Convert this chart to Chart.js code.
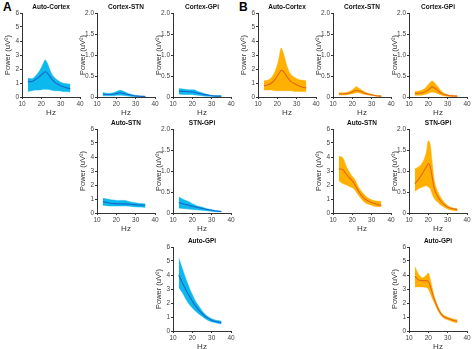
<!DOCTYPE html>
<html><head><meta charset="utf-8">
<script src="https://cdn.jsdelivr.net/npm/chart.js@4/dist/chart.umd.min.js"></script>
<style>
html,body{margin:0;padding:0;background:#fff;}
#wrap{position:relative;width:474px;height:349px;overflow:hidden;font-family:"Liberation Sans",Arial,sans-serif;}
canvas{position:absolute;}
.lbl{position:absolute;font-weight:bold;font-size:12px;color:#000;line-height:1;}
</style></head><body>
<div id="wrap">
<div class="lbl" style="left:3px;top:1px">A</div>
<div class="lbl" style="left:239px;top:1px">B</div>
</div>
<script>
const hz = [13,15,17,19,20,21,22,23,25,27,29,31,33,35];
const xTicks = [10,20,30,40];
const yTicksBig = [0,1,2,3,4,5,6];
const yTicksSmall = [0,0.5,1,1.5,2];

// Group A
const aCortexMean  = [1.1,1.1,1.25,1.45,1.58,1.7,1.8,1.72,1.35,1.05,0.88,0.75,0.65,0.6];
const aCortexUpper = [1.35,1.3,1.5,1.85,2.1,2.4,2.65,2.45,1.75,1.35,1.15,1.0,0.95,0.9];
const aCortexLower = [0.4,0.45,0.5,0.5,0.52,0.55,0.55,0.55,0.5,0.45,0.45,0.4,0.4,0.35];
const aCtxStnMean  = [0.07,0.06,0.06,0.07,0.08,0.09,0.1,0.09,0.07,0.05,0.03,0.02,0.015,0.01];
const aCtxStnUpper = [0.11,0.09,0.09,0.11,0.13,0.15,0.16,0.15,0.11,0.07,0.05,0.03,0.025,0.02];
const aCtxStnLower = [0.03,0.03,0.03,0.03,0.04,0.04,0.04,0.04,0.03,0.02,0.01,0.005,0.003,0.002];
const aCtxGpiMean  = [0.14,0.135,0.13,0.125,0.12,0.115,0.1,0.09,0.07,0.05,0.035,0.025,0.02,0.02];
const aCtxGpiUpper = [0.2,0.19,0.18,0.17,0.17,0.17,0.15,0.13,0.1,0.07,0.05,0.035,0.03,0.03];
const aCtxGpiLower = [0.07,0.06,0.06,0.06,0.06,0.05,0.05,0.04,0.03,0.02,0.015,0.01,0.008,0.005];
const aStnMean     = [0.8,0.75,0.7,0.67,0.65,0.65,0.65,0.65,0.65,0.62,0.6,0.58,0.56,0.55];
const aStnUpper    = [1.05,1.0,0.95,0.92,0.9,0.9,0.9,0.9,0.88,0.8,0.75,0.7,0.67,0.65];
const aStnLower    = [0.55,0.52,0.5,0.5,0.5,0.5,0.5,0.5,0.5,0.48,0.45,0.43,0.42,0.4];
const aStnGpiMean  = [0.25,0.22,0.2,0.17,0.16,0.15,0.14,0.13,0.11,0.09,0.07,0.055,0.045,0.035];
const aStnGpiUpper = [0.38,0.33,0.29,0.25,0.22,0.2,0.18,0.16,0.14,0.11,0.09,0.07,0.05,0.04];
const aStnGpiLower = [0.12,0.11,0.1,0.09,0.085,0.08,0.075,0.07,0.065,0.055,0.045,0.035,0.03,0.025];
const aGpiMean     = [4.0,3.4,2.85,2.35,2.12,1.9,1.72,1.55,1.25,1.0,0.85,0.72,0.65,0.6];
const aGpiUpper    = [5.2,4.4,3.6,2.9,2.6,2.3,2.05,1.85,1.45,1.15,0.95,0.82,0.75,0.7];
const aGpiLower    = [3.1,2.7,2.2,1.8,1.65,1.5,1.37,1.25,1.05,0.85,0.7,0.62,0.55,0.5];

// Group B
const bCortexMean  = [0.8,0.85,1.0,1.3,1.5,1.7,1.9,1.85,1.45,1.1,0.95,0.8,0.7,0.65];
const bCortexUpper = [1.15,1.2,1.4,1.9,2.3,2.9,3.5,3.2,2.2,1.6,1.4,1.25,1.2,1.15];
const bCortexLower = [0.5,0.5,0.5,0.45,0.45,0.45,0.45,0.45,0.45,0.45,0.4,0.4,0.4,0.4];
const bCtxStnMean  = [0.07,0.07,0.08,0.1,0.12,0.14,0.16,0.15,0.12,0.08,0.06,0.04,0.025,0.02];
const bCtxStnUpper = [0.1,0.1,0.11,0.14,0.17,0.21,0.25,0.22,0.16,0.11,0.08,0.05,0.035,0.03];
const bCtxStnLower = [0.05,0.05,0.05,0.07,0.08,0.09,0.1,0.1,0.08,0.06,0.04,0.03,0.02,0.01];
const bCtxGpiMean  = [0.08,0.09,0.1,0.14,0.17,0.21,0.24,0.22,0.15,0.08,0.05,0.03,0.025,0.02];
const bCtxGpiUpper = [0.13,0.14,0.17,0.24,0.3,0.35,0.38,0.35,0.24,0.13,0.07,0.045,0.035,0.03];
const bCtxGpiLower = [0.04,0.04,0.05,0.07,0.09,0.11,0.12,0.11,0.08,0.04,0.02,0.015,0.01,0.01];
const bStnMean     = [3.15,3.1,2.75,2.45,2.3,2.1,1.85,1.6,1.2,0.95,0.8,0.7,0.6,0.55];
const bStnUpper    = [4.05,3.95,3.3,2.8,2.6,2.45,2.2,1.9,1.5,1.2,1.0,0.9,0.85,0.8];
const bStnLower    = [2.3,2.1,2.0,1.85,1.8,1.7,1.5,1.3,0.95,0.7,0.6,0.5,0.45,0.45];
const bStnGpiMean  = [0.7,0.8,0.95,1.1,1.18,1.1,0.85,0.6,0.38,0.25,0.17,0.12,0.1,0.08];
const bStnGpiUpper = [1.05,1.1,1.2,1.45,1.72,1.62,1.2,0.8,0.5,0.33,0.22,0.15,0.12,0.1];
const bStnGpiLower = [0.52,0.58,0.62,0.65,0.62,0.58,0.45,0.35,0.25,0.17,0.12,0.08,0.06,0.05];
const bGpiMean     = [3.9,3.65,3.6,3.6,3.55,3.2,2.75,2.3,1.6,1.15,0.95,0.85,0.75,0.7];
const bGpiUpper    = [4.6,4.05,3.8,4.0,4.15,3.7,3.1,2.5,1.75,1.25,1.05,0.95,0.85,0.8];
const bGpiLower    = [3.15,3.15,3.15,3.1,3.0,2.7,2.35,2.05,1.45,1.05,0.85,0.75,0.65,0.6];

const colA = {band:'rgb(12,184,236)', line:'rgb(24,105,205)'};
const colB = {band:'rgb(255,176,0)', line:'rgb(228,104,28)'};

const panels = [
  {t:'Auto-Cortex', c:0, r:0, big:true,  m:aCortexMean, u:aCortexUpper, l:aCortexLower, col:colA},
  {t:'Cortex-STN',  c:1, r:0, big:false, m:aCtxStnMean, u:aCtxStnUpper, l:aCtxStnLower, col:colA},
  {t:'Cortex-GPi',  c:2, r:0, big:false, m:aCtxGpiMean, u:aCtxGpiUpper, l:aCtxGpiLower, col:colA},
  {t:'Auto-STN',    c:1, r:1, big:true,  m:aStnMean, u:aStnUpper, l:aStnLower, col:colA},
  {t:'STN-GPi',     c:2, r:1, big:false, m:aStnGpiMean, u:aStnGpiUpper, l:aStnGpiLower, col:colA},
  {t:'Auto-GPi',    c:2, r:2, big:true,  m:aGpiMean, u:aGpiUpper, l:aGpiLower, col:colA},
  {t:'Auto-Cortex', c:3, r:0, big:true,  m:bCortexMean, u:bCortexUpper, l:bCortexLower, col:colB},
  {t:'Cortex-STN',  c:4, r:0, big:false, m:bCtxStnMean, u:bCtxStnUpper, l:bCtxStnLower, col:colB},
  {t:'Cortex-GPi',  c:5, r:0, big:false, m:bCtxGpiMean, u:bCtxGpiUpper, l:bCtxGpiLower, col:colB},
  {t:'Auto-STN',    c:4, r:1, big:true,  m:bStnMean, u:bStnUpper, l:bStnLower, col:colB},
  {t:'STN-GPi',     c:5, r:1, big:false, m:bStnGpiMean, u:bStnGpiUpper, l:bStnGpiLower, col:colB},
  {t:'Auto-GPi',    c:5, r:2, big:true,  m:bGpiMean, u:bGpiUpper, l:bGpiLower, col:colB}
];

const colLeft = [0,75,151,236,311,387];
const rowTop = [-1,115,233];
const W = 102, H = 122;

const panelTitle = {
  id:'panelTitle',
  afterDraw(chart, args, opts){
    const ctx = chart.ctx, a = chart.chartArea;
    ctx.save();
    ctx.font = 'bold 6.5px "Liberation Sans", Arial, sans-serif';
    ctx.fillStyle = '#111';
    ctx.textAlign = 'center';
    ctx.textBaseline = 'middle';
    ctx.fillText(opts.text, (a.left + a.right)/2, a.top - 6);
    ctx.restore();
  }
};

const pts = arr => arr.map((v,i)=>({x:hz[i], y:v}));
const axisColor = '#333';
const tickFont = {family:'"Liberation Sans", Arial, sans-serif', size:6.5};
const wrap = document.getElementById('wrap');

panels.forEach(p=>{
  const cv = document.createElement('canvas');
  cv.width = W; cv.height = H;
  cv.style.left = colLeft[p.c]+'px';
  cv.style.top = rowTop[p.r]+'px';
  cv.style.width = W+'px'; cv.style.height = H+'px';
  wrap.appendChild(cv);
  const yt = p.big ? yTicksBig : yTicksSmall;
  new Chart(cv.getContext('2d'), {
    type:'line',
    data:{datasets:[
      {data:pts(p.m), borderColor:p.col.line, borderWidth:1.1, pointRadius:0, fill:false, cubicInterpolationMode:'monotone'},
      {data:pts(p.u), borderColor:p.col.band, backgroundColor:p.col.band, borderWidth:0.5, pointRadius:0, fill:'+1', cubicInterpolationMode:'monotone'},
      {data:pts(p.l), borderColor:p.col.band, backgroundColor:p.col.band, borderWidth:0.5, pointRadius:0, fill:false, cubicInterpolationMode:'monotone'}
    ]},
    options:{
      responsive:false, animation:false, devicePixelRatio:1,
      layout:{padding:{left:0, right:22, top:14, bottom:0}},
      plugins:{legend:{display:false}, tooltip:{enabled:false}, panelTitle:{text:p.t}},
      scales:{
        x:{type:'linear', min:10, max:40,
          afterBuildTicks: s => { s.ticks = xTicks.map(v=>({value:v})); },
          afterFit: s => { s.height = 24; },
          grid:{display:true, drawOnChartArea:false, drawTicks:true, tickLength:2, color:axisColor},
          border:{display:true, color:axisColor, width:1},
          ticks:{font:tickFont, color:'#444', padding:1, maxRotation:0},
          title:{display:true, text:'Hz', font:{family:'"Liberation Sans", Arial, sans-serif', size:8}, color:'#333', padding:{top:0, bottom:3.5}}
        },
        y:{type:'linear', min:0, max:p.big?6:2,
          afterBuildTicks: s => { s.ticks = yt.map(v=>({value:v})); },
          afterFit: s => { s.width = 22; },
          grid:{display:true, drawOnChartArea:false, drawTicks:true, tickLength:2, color:axisColor},
          border:{display:true, color:axisColor, width:1},
          ticks:{font:tickFont, color:'#444', padding:1},
          title:{display:true, text:'Power (uV²)', font:{family:'"Liberation Sans", Arial, sans-serif', size:7.5}, color:'#333', padding:{top:3, bottom:0}}
        }
      }
    },
    plugins:[panelTitle]
  });
});
</script>
</body></html>
